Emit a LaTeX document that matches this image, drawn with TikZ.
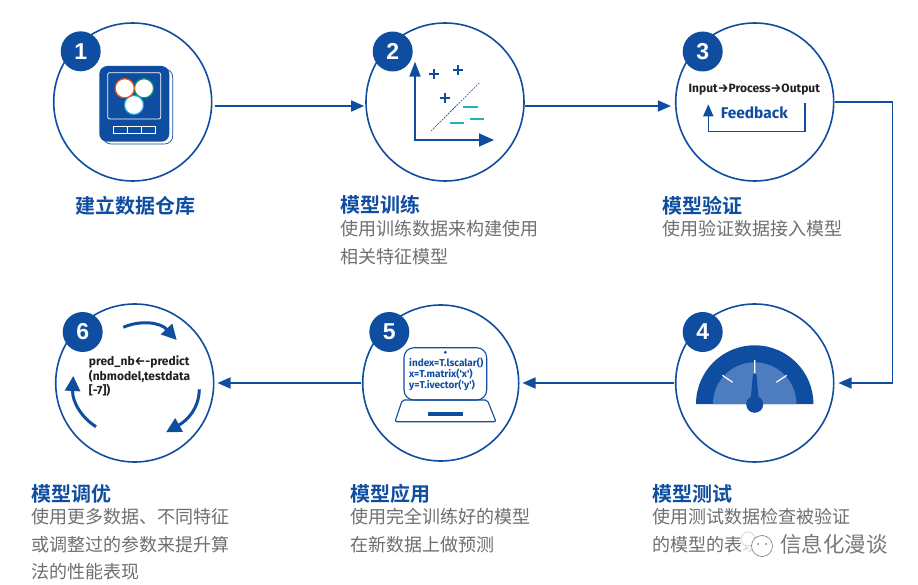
\documentclass[tikz,border=0pt]{standalone}
\usepackage{fontspec}
\setmainfont{Liberation Sans}
\newfontfamily\cjk[BoldFont={Noto Sans CJK SC Bold}]{Noto Sans CJK SC}
\newfontfamily\din{Fira Sans}
\usetikzlibrary{arrows.meta}
\definecolor{navy}{HTML}{0F4DA1}
\definecolor{midblue}{HTML}{4E7DBF}
\definecolor{teal2}{HTML}{1FB4B6}
\definecolor{greytext}{HTML}{6E6F72}
\definecolor{inktext}{HTML}{231F20}
\definecolor{wmgrey}{HTML}{77797B}
\tikzset{
  stage/.style={circle,draw=navy,line width=1.6pt,fill=white,minimum size=158pt,inner sep=0pt},
  badge/.style={circle,fill=navy,text=white,minimum size=40pt,inner sep=0pt,font=\bfseries\fontsize{23}{23}\selectfont},
  flow/.style={draw=navy,line width=1.6pt,-{Triangle[length=13pt,width=11pt]}},
  head/.style={anchor=west,inner sep=0pt,text=navy,font=\cjk\bfseries\fontsize{20}{20}\selectfont},
  desc/.style={anchor=west,inner sep=0pt,text=greytext,font=\cjk\fontsize{18}{18}\selectfont},
  spin/.style={draw=navy,line width=3pt,-{Triangle[length=15pt,width=15pt]}},
  codeline/.style={anchor=west,inner sep=0pt,text=navy,font=\din\bfseries\fontsize{10}{10}\selectfont},
  inkline/.style={anchor=west,inner sep=0pt,text=inktext,font=\din\bfseries\fontsize{12}{12}\selectfont}
}
\begin{document}
\begin{tikzpicture}[x=1pt,y=-1pt]
\useasboundingbox (0,0) rectangle (918,585);
\fill[white] (0,0) rectangle (918,585);

% stages
\node[stage] (c1) at (132.7,102) {};
\node[stage] (c2) at (445,102) {};
\node[stage] (c3) at (754.7,102) {};
\node[stage] (c4) at (754.7,383) {};
\node[stage,minimum size=156pt] (c5) at (440.7,383) {};
\node[stage] (c6) at (134.7,383) {};

% connectors
\draw[flow] ([xshift=2pt,yshift=-4pt]c1.east) -- ([xshift=-1pt,yshift=-4pt]c2.west);
\draw[flow] ([xshift=0pt,yshift=-4pt]c2.east) -- ([xshift=-4pt,yshift=-4pt]c3.west);
\draw[flow] (c3.east) -- ++(58,0) |- ([xshift=4pt]c4.east);
\draw[flow] ([xshift=-1pt]c4.west) -- ([xshift=3pt]c5.east);
\draw[flow] ([xshift=-1pt]c5.west) -- ([xshift=3pt]c6.east);

% badges
\node[badge] (b1) at (80.7,51.3) {1};
\node[badge] (b2) at (392.7,51.5) {2};
\node[badge] (b3) at (702.7,51.5) {3};
\node[badge] (b4) at (702.7,332) {4};
\node[badge] (b5) at (389.3,332) {5};
\node[badge] (b6) at (82.7,332) {6};

% icon 1
\draw[navy,line width=.7pt,rounded corners=8pt] (103,69) rectangle (172.7,144);
\fill[navy,rounded corners=8pt] (99.3,66) rectangle (169.3,141.7);
\draw[white,line width=.8pt,rounded corners=2pt] (107.7,72.7) rectangle (160.7,119);
\draw[white,line width=.8pt] (113,126.7) rectangle (155.7,133.7) (127.3,126.7) -- (127.3,133.7) (141.7,126.7) -- (141.7,133.7);
\filldraw[fill=white,draw=teal!55!navy!70!green,line width=1.2pt] (144,88.3) circle (9.6);
\filldraw[fill=white,draw=cyan!80!navy,line width=1.2pt] (134,105) circle (9.6);
\filldraw[fill=white,draw=orange!60!red,line width=1.2pt] (124.7,88.3) circle (9.6);

% icon 2
\draw[navy,line width=1.8pt,{Triangle[length=15pt,width=11pt]}-{Triangle[length=15pt,width=13pt]}] (415,61.7) -- (415,140) -- (494,140);
\foreach \px/\py in {433.7/74,458.3/70.3,444.7/97.7}
  \draw[navy,line width=1.9pt] (\px-5,\py) -- (\px+5,\py) (\px,\py-5) -- (\px,\py+5);
\draw[navy,line width=.6pt,dash pattern=on 2pt off 1pt] (431,131) -- (480,82.3);
\draw[teal2,line width=1.9pt] (463.3,107.3) -- (477.7,107.3) (450,122.7) -- (464,122.7) (469.7,119) -- (484,119);

% icon 3
\node[inkline,anchor=center] (io) at (754.3,90) {Input→Process→Output};
\node[anchor=center,inner sep=0pt,text=navy,font=\din\bfseries\fontsize{15.5}{15.5}\selectfont] (fb) at (754.3,112.7) {Feedback};
\draw[navy,line width=1.6pt,-{Triangle[length=12pt,width=10pt]}] (805,103.3) -- (805,131.7) -- (708.3,131.7) -- (708.3,104.3);

% icon 4
\fill[navy] (696,404) arc[start angle=180,delta angle=180,radius=58.7] -- cycle;
\fill[midblue] (713,404) arc[start angle=180,delta angle=180,radius=41.7] -- cycle;
\draw[white,line width=1.2pt] (754.7,360) -- (754.7,373) (722.3,375.3) -- (732.7,382.3) (786.7,375.3) -- (776.3,382.3);
\fill[navy] (753,374) -- (756.4,374) -- (758.7,400) -- (750.7,400) -- cycle;
\fill[navy] (754.7,404.3) circle (8.5);

% icon 5
\draw[navy,line width=1.1pt,rounded corners=10pt] (404,347.7) rectangle (486.7,400);
\fill[navy] (445.3,352.3) circle (1.6);
\node[codeline] (l1) at (409,363.3) {index=T.lscalar()};
\node[codeline] (l2) at (409,374) {x=T.matrix('x')};
\node[codeline] (l3) at (409,385) {y=T.ivector('y')};
\draw[navy,line width=1.1pt,rounded corners=2pt] (402.3,400) -- (487.3,400) -- (496,421.7) -- (395,421.7) -- cycle;
\fill[navy] (428,412) rectangle (463,416);

% icon 6
\node[inkline] (p1) at (88.7,362.3) {pred\_nb←-predict};
\node[inkline] (p2) at (88.7,376) {(nbmodel,testdata};
\node[inkline] (p3) at (88.7,390) {[-7])};
\draw[spin] (123.3,327.3) .. controls (140,320) and (160,322) .. (176.7,340);
\draw[spin] (199.3,389.3) .. controls (199,408) and (188,420) .. (166,432.3);
\draw[spin] (96,426.7) .. controls (82,418) and (72,402) .. (73.3,376);

% captions
\node[head] (t1) at (75,206) {建立数据仓库};
\node[head] (t2) at (340,205) {模型训练};
\node[desc] (d21) at (340,229) {使用训练数据来构建使用};
\node[desc] (d22) at (340,257) {相关特征模型};
\node[head] (t3) at (662,206) {模型验证};
\node[desc] (d31) at (662,229) {使用验证数据接入模型};
\node[head] (t4) at (652,494) {模型测试};
\node[desc] (d41) at (652,517) {使用测试数据检查被验证};
\node[desc] (d42) at (652,545) {的模型的表现};
\node[head] (t5) at (350,494) {模型应用};
\node[desc] (d51) at (350,517) {使用完全训练好的模型};
\node[desc] (d52) at (350,545) {在新数据上做预测};
\node[head] (t6) at (31,494) {模型调优};
\node[desc] (d61) at (31,517) {使用更多数据、不同特征};
\node[desc] (d62) at (31,545) {或调整过的参数来提升算};
\node[desc] (d63) at (31,572) {法的性能表现};

% watermark
\fill[white,opacity=.7] (742,531) rectangle (775,557);
\draw[wmgrey!60,line width=.5pt,fill=white,dash pattern=on 1.5pt off .7pt] (748,539) circle (7);
\draw[wmgrey,line width=.6pt,fill=white] (762,546) circle (10.5);
\fill[wmgrey] (758,544) circle (1) (766,544) circle (1);
\node[anchor=west,inner sep=0pt,text=wmgrey,font=\cjk\fontsize{21.5}{21.5}\selectfont] (wm) at (780,544) {信息化漫谈};
\end{tikzpicture}
\end{document}
